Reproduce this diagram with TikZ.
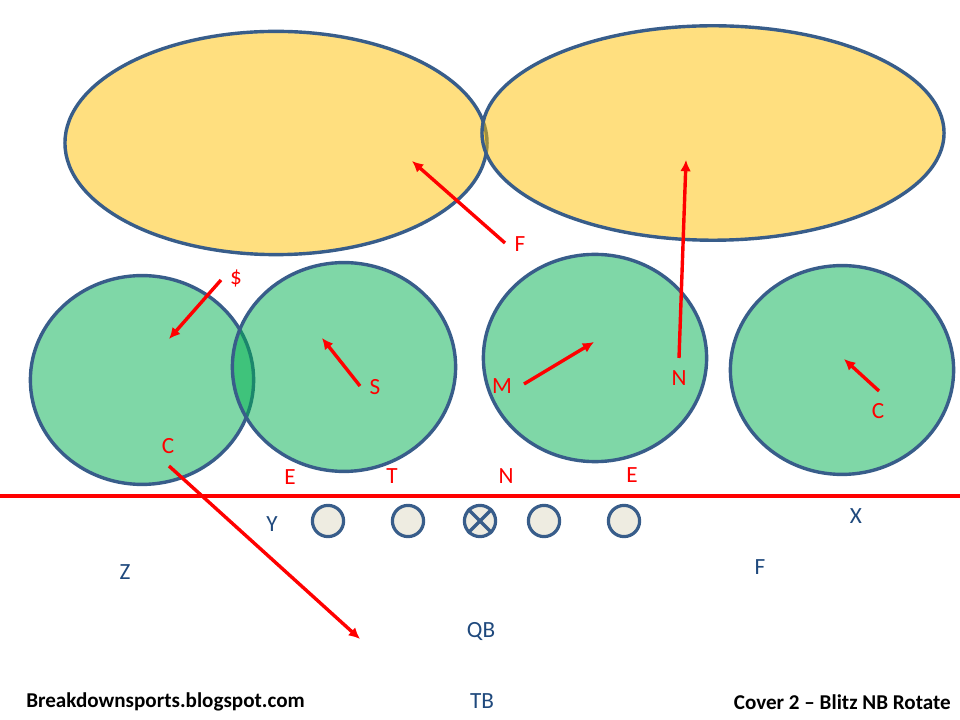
\documentclass[tikz,border=0pt]{standalone}
\usepackage{fontspec}
\setmainfont{Carlito}
\definecolor{zoneline}{RGB}{56,93,138}
\definecolor{zoneyellow}{RGB}{255,192,0}
\definecolor{zonegreen}{RGB}{0,176,80}
\definecolor{linefill}{RGB}{238,236,225}
\definecolor{offtext}{RGB}{31,73,125}
\tikzset{
  deepzone/.style={ellipse,draw=zoneline,line width=0.085cm,fill=zoneyellow,fill opacity=0.5,draw opacity=1,inner sep=0,text opacity=1},
  underzone/.style={ellipse,draw=zoneline,line width=0.085cm,fill=zonegreen,fill opacity=0.5,draw opacity=1,inner sep=0,text opacity=1},
  lineman/.style={circle,draw=zoneline,line width=0.08cm,fill=linefill,minimum size=0.78cm,inner sep=0},
  deflabel/.style={text=red,font=\fontsize{16.5}{16.5}\selectfont,inner sep=0},
  offlabel/.style={text=offtext,font=\fontsize{16.5}{16.5}\selectfont,inner sep=0},
  credit/.style={text=black,font=\bfseries\fontsize{15}{15}\selectfont,inner sep=0},
  route/.style={draw=red,line width=0.085cm,-{Latex[length=0.28cm,width=0.27cm]}}
}
\usetikzlibrary{shapes.geometric,arrows.meta}
\begin{document}
\begin{tikzpicture}[x=0.025cm,y=-0.025cm]
\useasboundingbox (0,0) rectangle (960,720);
\fill[white] (0,0) rectangle (960,720);

% Deep zones
\node[deepzone,minimum width=10.55cm,minimum height=5.58cm] (deepleft) at (276,143) {};
\node[deepzone,minimum width=11.55cm,minimum height=5.36cm] (deepright) at (713,133) {};

% Underneath zones
\node[underzone,minimum width=5.58cm,minimum height=5.22cm] (flatleft) at (142,380) {};
\node[underzone,minimum width=5.58cm,minimum height=5.22cm] (hookleft) at (344,367) {};
\node[underzone,minimum width=5.58cm,minimum height=5.18cm] (hookright) at (595,358) {};
\node[underzone,minimum width=5.58cm,minimum height=5.22cm] (flatright) at (842,370) {};

% Line of scrimmage
\coordinate (losleft) at (0,496);
\coordinate (losright) at (960,496);
\draw[red,line width=0.08cm] (losleft) -- (losright);

% Offensive line
\node[lineman] (lt) at (328,521) {};
\node[lineman] (lg) at (408,521) {};
\node[lineman] (ctr) at (480,521) {};
\node[lineman] (rg) at (544,521) {};
\node[lineman] (rt) at (624,521) {};
\draw[zoneline,line width=0.08cm] (ctr.north west) -- (ctr.south east);
\draw[zoneline,line width=0.08cm] (ctr.north east) -- (ctr.south west);

% Defense labels
\node[deflabel] (free) at (520,244) {F};
\node[deflabel] (money) at (236,278) {\$};
\node[deflabel] (strong) at (375,387) {S};
\node[deflabel] (mike) at (502,386) {M};
\node[deflabel] (nickel) at (679,378) {N};
\node[deflabel] (rcorner) at (878,411) {C};
\node[deflabel] (lcorner) at (168,446) {C};
\node[deflabel] (lend) at (290,477) {E};
\node[deflabel] (tackle) at (392,476) {T};
\node[deflabel] (nose) at (506,476) {N};
\node[deflabel] (rend) at (632,475) {E};

% Offense labels
\node[offlabel] (ytight) at (272,524) {Y};
\node[offlabel] (xwr) at (856,516) {X};
\node[offlabel] (zwr) at (125,572) {Z};
\node[offlabel] (fback) at (760,567) {F};
\node[offlabel] (qb) at (481,632) {QB};
\node[offlabel] (tb) at (482,701) {TB};

% Credits
\node[credit,anchor=west] (blog) at (26,702) {Breakdownsports.blogspot.com};
\node[credit,anchor=east] (title) at (951,702) {Cover 2 -- Blitz NB Rotate};

% Drops
\coordinate (freeend) at (412,161);
\coordinate (moneyend) at (169,339);
\coordinate (strongend) at (322,338);
\coordinate (mikeend) at (594,342);
\coordinate (nickelend) at (686,160);
\coordinate (rcornerend) at (844,359);
\coordinate (lcornerend) at (360,639);
\draw[route] (free) ++(-15,-1) coordinate (freestart) -- (freeend);
\draw[route] (money) ++(-15,2) coordinate (moneystart) -- (moneyend);
\draw[route] (strong) ++(-15,-1) coordinate (strongstart) -- (strongend);
\draw[route] (mike) ++(22,-2) coordinate (mikestart) -- (mikeend);
\draw[route] (nickel) ++(0,-20) coordinate (nickelstart) -- (nickelend);
\draw[route] (rcorner) ++(1,-20) coordinate (rcornerstart) -- (rcornerend);
\draw[route] (lcorner) ++(1,20) coordinate (lcornerstart) -- (lcornerend);
\end{tikzpicture}
\end{document}
